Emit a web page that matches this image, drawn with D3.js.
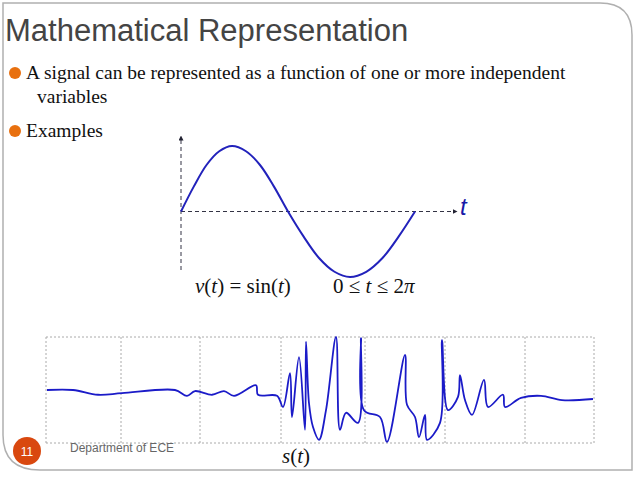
<!DOCTYPE html>
<html><head><meta charset="utf-8">
<script src="https://cdn.jsdelivr.net/npm/d3@7"></script>
<style>body{margin:0;background:#fff}</style>
</head><body>
<script>
// sine samples, phase in quarter-periods (0..8 over 0..2pi)
var sinePhase = [0, 0.5, 1, 1.5, 2, 2.5, 3, 3.5, 4, 4.5, 5, 5.5, 6, 6.5, 7, 7.5, 8];
var sineValue = [0, 0.38, 0.71, 0.92, 1, 0.92, 0.71, 0.38, 0, -0.38, -0.71, -0.92, -1, -0.92, -0.71, -0.38, 0];
// s(t) signal, time 0..548, value -1..1
var sigT = [1,27,52,76,129,141,149,166,178,188,210,212,231,237,244,246,253,259,260,263,267,273,280,290,294,300,312,315,318,334,341,359,361,369,373,379,381,394,396,402,412,414,419,426,438,442,457,459,475,495,516,547];
var sigV = [0,0,-0.09,-0.06,0,-0.11,-0.02,-0.09,-0.02,-0.11,0.09,-0.09,-0.11,-0.32,0.32,-0.51,0.62,-0.75,0.91,-0.25,-0.7,-0.94,-0.38,1,-0.75,-0.43,-0.62,0.98,-0.38,-0.51,-0.98,0.66,-0.28,-0.51,-0.89,-0.47,-0.94,-0.62,0.94,-0.38,-0.13,0.28,-0.19,-0.47,0.19,-0.32,-0.09,-0.32,-0.15,-0.11,-0.19,-0.17];

var W = 638, H = 478;
var svg = d3.select("body").append("svg").attr("width", W).attr("height", H);

// slide frame
svg.append("path")
  .attr("d", "M3,3 H600 Q632,3 632,35 V470 H40 Q3,470 3,435 Z")
  .attr("fill", "none").attr("stroke", "#b0b0b0").attr("stroke-width", 1.5);

svg.append("text").attr("x", 5).attr("y", 41).text("Mathematical Representation")
  .attr("font-family", "Liberation Sans, Arial").attr("font-size", 31).attr("fill", "#444");

var bullets = [[79, "A signal can be represented as a function of one or more independent"], [103, "variables"], [137, "Examples"]];
bullets.forEach(function (b, i) {
  if (i != 1) svg.append("circle").attr("cx", 15).attr("cy", b[0] - 6).attr("r", 6).attr("fill", "#e8700f");
  svg.append("text").attr("x", i == 1 ? 37 : 26).attr("y", b[0]).text(b[1])
    .attr("font-family", "Liberation Serif, serif").attr("font-size", 19.5).attr("fill", "#111");
});

// sine chart
var x = d3.scaleLinear().domain([0, 2, 4, 6, 8]).range([181, 232, 288, 350, 415]);
var y = d3.scaleLinear().domain([-1, 1]).range([277, 146]);
svg.append("defs").append("marker").attr("id", "ar").attr("viewBox", "0 0 10 10")
  .attr("refX", 5).attr("refY", 5).attr("markerWidth", 5).attr("markerHeight", 5).attr("orient", "auto")
  .append("path").attr("d", "M0,0 L10,5 L0,10 Z").attr("fill", "#223");
svg.append("line").attr("x1", x(0)).attr("y1", y(0)).attr("x2", 455).attr("y2", y(0))
  .attr("stroke", "#334").attr("stroke-dasharray", "4,3").attr("marker-end", "url(#ar)");
svg.append("line").attr("x1", x(0)).attr("y1", 270).attr("x2", x(0)).attr("y2", 138)
  .attr("stroke", "#334").attr("stroke-dasharray", "4,3").attr("marker-end", "url(#ar)");
svg.append("path").datum(d3.range(sinePhase.length))
  .attr("d", d3.line().curve(d3.curveCatmullRom).x(function (i) { return x(sinePhase[i]); }).y(function (i) { return y(sineValue[i]); }))
  .attr("fill", "none").attr("stroke", "#2222bb").attr("stroke-width", 2);
svg.append("text").attr("x", 460).attr("y", 215).text("t").attr("font-style", "italic")
  .attr("font-family", "Liberation Sans").attr("font-size", 24).attr("fill", "#1a1aa8");

function formula(px, py, parts) {
  var t = svg.append("text").attr("x", px).attr("y", py).attr("font-family", "Liberation Serif, serif").attr("font-size", 21).attr("fill", "#111");
  parts.forEach(function (p) { t.append("tspan").attr("font-style", p[1] ? "italic" : "normal").text(p[0]); });
}
formula(195, 293, [["v", 1], ["(", 0], ["t", 1], [") = sin(", 0], ["t", 1], [")", 0]]);
formula(333, 293, [["0 ≤ ", 0], ["t", 1], [" ≤ 2", 0], ["π", 1]]);

// s(t) panel
var sx = d3.scaleLinear().domain([0, 548]).range([46, 594]);
var sy = d3.scaleLinear().domain([-1, 1]).range([443, 337]);
var gridX = [0, 75, 154, 235, 319, 399, 479, 548];
svg.selectAll(".gv").data(gridX).enter().append("line")
  .attr("x1", sx).attr("x2", sx).attr("y1", sy(1)).attr("y2", sy(-1))
  .attr("stroke", "#aaa").attr("stroke-dasharray", "2,2");
[1, -1].forEach(function (v) {
  svg.append("line").attr("x1", sx(0)).attr("x2", sx(548)).attr("y1", sy(v)).attr("y2", sy(v))
    .attr("stroke", "#aaa").attr("stroke-dasharray", "2,2");
});
svg.append("path").datum(d3.range(sigT.length))
  .attr("d", d3.line().curve(d3.curveCatmullRom.alpha(0.5)).x(function (i) { return sx(sigT[i]); }).y(function (i) { return sy(sigV[i]); }))
  .attr("fill", "none").attr("stroke", "#1b1bc8").attr("stroke-width", 1.8).attr("stroke-linejoin", "round");
formula(282, 463, [["s", 1], ["(", 0], ["t", 1], [")", 0]]);

// footer
svg.append("circle").attr("cx", 27).attr("cy", 451).attr("r", 14).attr("fill", "#d9480f");
svg.append("text").attr("x", 27).attr("y", 456).attr("text-anchor", "middle").text("11")
  .attr("font-family", "Liberation Sans").attr("font-size", 12).attr("fill", "#fff");
svg.append("text").attr("x", 70).attr("y", 452).text("Department of ECE")
  .attr("font-family", "Liberation Sans").attr("font-size", 12).attr("fill", "#666");
</script>
</body></html>
